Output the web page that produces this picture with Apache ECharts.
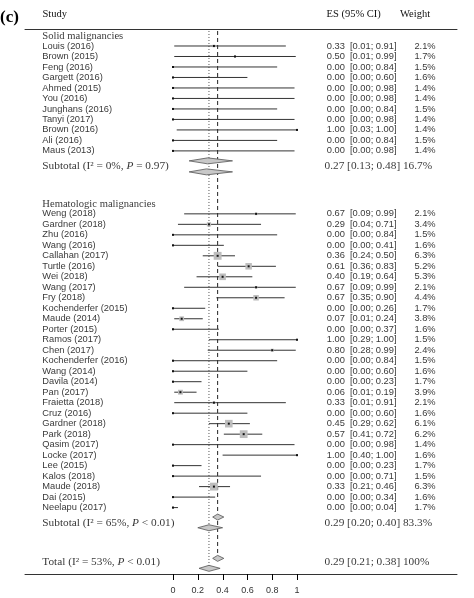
<!DOCTYPE html>
<html>
<head>
<meta charset="utf-8">
<script src="https://cdn.jsdelivr.net/npm/echarts@6/dist/echarts.min.js"></script>
<style>
  html, body { margin: 0; padding: 0; background: #fff; }
  #chart { width: 474px; height: 598px; }
</style>
</head>
<body>
<div id="chart"></div>
<script>
// solid malignancies
const solidStudies = ['Louis (2016)', 'Brown (2015)', 'Feng (2016)', 'Gargett (2016)', 'Ahmed (2015)', 'You (2016)',
  'Junghans (2016)', 'Tanyi (2017)', 'Brown (2016)', 'Ali (2016)', 'Maus (2013)'];
const solidEs = [0.33, 0.50, 0.00, 0.00, 0.00, 0.00, 0.00, 0.00, 1.00, 0.00, 0.00];
const solidLower = [0.01, 0.01, 0.00, 0.00, 0.00, 0.00, 0.00, 0.00, 0.03, 0.00, 0.00];
const solidUpper = [0.91, 0.99, 0.84, 0.60, 0.98, 0.98, 0.84, 0.98, 1.00, 0.84, 0.98];
const solidWeight = [2.1, 1.7, 1.5, 1.6, 1.4, 1.4, 1.5, 1.4, 1.4, 1.5, 1.4];

// hematologic malignancies
const hemeStudies = ['Weng (2018)', 'Gardner (2018)', 'Zhu (2016)', 'Wang (2016)', 'Callahan (2017)', 'Turtle (2016)',
  'Wei (2018)', 'Wang (2017)', 'Fry (2018)', 'Kochenderfer (2015)', 'Maude (2014)', 'Porter (2015)', 'Ramos (2017)',
  'Chen (2017)', 'Kochenderfer (2016)', 'Wang (2014)', 'Davila (2014)', 'Pan (2017)', 'Fraietta (2018)', 'Cruz (2016)',
  'Gardner (2018)', 'Park (2018)', 'Qasim (2017)', 'Locke (2017)', 'Lee (2015)', 'Kalos (2018)', 'Maude (2018)',
  'Dai (2015)', 'Neelapu (2017)'];
const hemeEs = [0.67, 0.29, 0.00, 0.00, 0.36, 0.61, 0.40, 0.67, 0.67, 0.00, 0.07, 0.00, 1.00, 0.80, 0.00, 0.00, 0.00,
  0.06, 0.33, 0.00, 0.45, 0.57, 0.00, 1.00, 0.00, 0.00, 0.33, 0.00, 0.00];
const hemeLower = [0.09, 0.04, 0.00, 0.00, 0.24, 0.36, 0.19, 0.09, 0.35, 0.00, 0.01, 0.00, 0.29, 0.28, 0.00, 0.00, 0.00,
  0.01, 0.01, 0.00, 0.29, 0.41, 0.00, 0.40, 0.00, 0.00, 0.21, 0.00, 0.00];
const hemeUpper = [0.99, 0.71, 0.84, 0.41, 0.50, 0.83, 0.64, 0.99, 0.90, 0.26, 0.24, 0.37, 1.00, 0.99, 0.84, 0.60, 0.23,
  0.19, 0.91, 0.60, 0.62, 0.72, 0.98, 1.00, 0.23, 0.71, 0.46, 0.34, 0.04];
const hemeWeight = [2.1, 3.4, 1.5, 1.6, 6.3, 5.2, 5.3, 2.1, 4.4, 1.7, 3.8, 1.6, 1.5, 2.4, 1.5, 1.6, 1.7, 3.9, 2.1, 1.6,
  6.1, 6.2, 1.4, 1.6, 1.7, 1.5, 6.3, 1.6, 1.7];

// subtotals and total (random effects printed, common effects drawn as upper diamond)
const summaryNames = ['Subtotal', 'Subtotal', 'Total'];
const summaryI2 = ['0%', '65%', '53%'];
const summaryP = ['= 0.97', '< 0.01', '< 0.01'];
const summaryEs = [0.27, 0.29, 0.29];
const summaryLower = [0.13, 0.20, 0.21];
const summaryUpper = [0.48, 0.40, 0.38];
const summaryWeight = ['16.7%', '83.3%', '100%'];
const commonEs = [0.28, 0.36, 0.36];
const commonLower = [0.13, 0.32, 0.32];
const commonUpper = [0.48, 0.41, 0.41];
const overallRandom = 0.29;
const overallCommon = 0.36;

const ticks = [0, 0.2, 0.4, 0.6, 0.8, 1];
const groupNames = ['Solid malignancies', 'Hematologic malignancies'];

// layout (row units on the y axis, value units on the x axis)
const yMin = -0.62;
const yMax = 51.33;
const solidStart = 1;
const hemeStart = 17;
const groupRows = [0.1, 16.05];
const summaryRows = [12.45, 46.45, 50.2];
const commonRows = [11.95, 45.9, 49.84];
const randomRows = [13.0, 46.92, 50.79];
const nameCol = -1.054;
const esCol = 1.24;
const weightCol = 2.118;
const summaryCol = 1.222;

const SANS = 'Liberation Sans';
const SERIF = 'Liberation Serif';
const f2 = v => v.toFixed(2);

const studyRows = [];
const pushGroup = (start, names, es, lo, hi, w) => {
  names.forEach((n, i) => {
    studyRows.push({ row: start + i, name: n, es: es[i], lo: lo[i], hi: hi[i], w: w[i] });
  });
};
pushGroup(solidStart, solidStudies, solidEs, solidLower, solidUpper, solidWeight);
pushGroup(hemeStart, hemeStudies, hemeEs, hemeLower, hemeUpper, hemeWeight);

const diamonds = [];
summaryEs.forEach((v, i) => {
  diamonds.push([commonRows[i], commonEs[i], commonLower[i], commonUpper[i]]);
  diamonds.push([randomRows[i], summaryEs[i], summaryLower[i], summaryUpper[i]]);
});

const chart = echarts.init(document.getElementById('chart'));

const textLabel = (font, size, pos) => ({
  show: true, position: pos || 'right', distance: 0, color: '#000',
  fontFamily: font, fontSize: size, formatter: p => p.data[2]
});

const option = {
  animation: false,
  backgroundColor: '#fff',
  grid: { left: 25, right: 17, top: 29, bottom: 24 },
  xAxis: [
    {
      type: 'value',
      min: -1.1935,
      max: 2.2903,
      position: 'bottom',
      axisLine: { show: true, onZero: false, lineStyle: { color: '#333', width: 1 } },
      axisTick: { show: false },
      axisLabel: { show: false },
      splitLine: { show: false }
    },
    {
      type: 'value',
      min: -1.1935,
      max: 2.2903,
      position: 'top',
      axisLine: { show: true, onZero: false, lineStyle: { color: '#333', width: 1 } },
      axisTick: { show: false },
      axisLabel: { show: false },
      splitLine: { show: false }
    }
  ],
  yAxis: { type: 'value', inverse: true, min: yMin, max: yMax, show: false },
  graphic: [
    { type: 'text', left: 0, top: 9, style: { text: '(c)', font: 'bold 17px ' + SERIF, fill: '#000' } },
    { type: 'text', left: 42.5, top: 9, style: { text: 'Study', font: '10.5px ' + SERIF, fill: '#111' } },
    { type: 'text', left: 326.5, top: 9, style: { text: 'ES (95% CI)', font: '10.5px ' + SERIF, fill: '#111' } },
    { type: 'text', left: 400, top: 9, style: { text: 'Weight', font: '10.5px ' + SERIF, fill: '#111' } }
  ],
  series: [
    // x axis ticks and labels for 0..1
    {
      type: 'custom',
      silent: true,
      clip: false,
      z: 5,
      encode: { x: 0, y: 1 },
      data: ticks.map(t => [t, yMax]),
      renderItem: (params, api) => {
        const p = api.coord([api.value(0), api.value(1)]);
        const x = Math.round(p[0]) + 0.5;
        return {
          type: 'group',
          children: [
            { type: 'line', shape: { x1: x, y1: p[1], x2: x, y2: p[1] + 6 }, style: { stroke: '#000', lineWidth: 1 } },
            {
              type: 'text',
              x: p[0], y: p[1] + 17,
              style: {
                text: String(api.value(0)), fill: '#333', font: '9px ' + SANS,
                align: 'center', verticalAlign: 'middle'
              }
            }
          ]
        };
      }
    },
    // reference lines
    {
      type: 'line',
      silent: true,
      symbol: 'none',
      data: [[overallRandom, -0.43], [overallRandom, randomRows[2]]],
      lineStyle: { color: '#555', width: 1, type: [1, 2] },
      z: 1
    },
    {
      type: 'line',
      silent: true,
      symbol: 'none',
      data: [[overallCommon, -0.43], [overallCommon, commonRows[2]]],
      lineStyle: { color: '#222', width: 1, type: [4, 3] },
      z: 1
    },
    // study CIs and squares
    {
      type: 'custom',
      silent: true,
      z: 3,
      encode: { x: [1, 2, 3], y: 0 },
      data: studyRows.map(d => [d.row, d.es, d.lo, d.hi, d.w]),
      renderItem: (params, api) => {
        const y = api.value(0);
        const pl = api.coord([api.value(2), y]);
        const ph = api.coord([api.value(3), y]);
        const pc = api.coord([api.value(1), y]);
        const s = api.value(4) * 1.25;
        return {
          type: 'group',
          children: [
            { type: 'line', shape: { x1: pl[0], y1: pc[1], x2: ph[0], y2: pc[1] }, style: { stroke: '#333', lineWidth: 1 } },
            { type: 'rect', shape: { x: pc[0] - s / 2, y: pc[1] - s / 2, width: s, height: s }, style: { fill: '#bdbdbd' } },
            { type: 'rect', shape: { x: pc[0] - 1, y: pc[1] - 1, width: 2, height: 2 }, style: { fill: '#111' } }
          ]
        };
      }
    },
    // summary diamonds
    {
      type: 'custom',
      silent: true,
      z: 4,
      encode: { x: [1, 2, 3], y: 0 },
      data: diamonds,
      renderItem: (params, api) => {
        const y = api.value(0);
        const pl = api.coord([api.value(2), y]);
        const ph = api.coord([api.value(3), y]);
        const pc = api.coord([api.value(1), y]);
        const h = 3;
        return {
          type: 'polygon',
          shape: { points: [[pl[0], pc[1]], [pc[0], pc[1] - h], [ph[0], pc[1]], [pc[0], pc[1] + h]] },
          style: { fill: '#c8c8c8', stroke: '#555', lineWidth: 0.8 }
        };
      }
    },
    // study names
    {
      type: 'scatter', silent: true, symbolSize: 0,
      data: studyRows.map(d => [nameCol, d.row, d.name]),
      label: textLabel(SANS, 9.3)
    },
    // ES and CI text
    {
      type: 'scatter', silent: true, symbolSize: 0,
      data: studyRows.map(d => [esCol, d.row, f2(d.es) + '  [' + f2(d.lo) + '; ' + f2(d.hi) + ']']),
      label: textLabel(SANS, 9.3)
    },
    // weights
    {
      type: 'scatter', silent: true, symbolSize: 0,
      data: studyRows.map(d => [weightCol, d.row, d.w.toFixed(1) + '%']),
      label: textLabel(SANS, 9.3, 'left')
    },
    // group headers
    {
      type: 'scatter', silent: true, symbolSize: 0,
      data: groupNames.map((n, i) => [nameCol, groupRows[i], n]),
      label: textLabel(SERIF, 10.6)
    },
    // summary labels
    {
      type: 'scatter', silent: true, symbolSize: 0,
      data: summaryNames.map((n, i) => [nameCol, summaryRows[i], n + ' (I\u00b2 = ' + summaryI2[i] + ', {i|P} ' + summaryP[i] + ')']),
      label: Object.assign(textLabel(SERIF, 11.3), {
        rich: { i: { fontStyle: 'italic', fontFamily: SERIF, fontSize: 11.3, color: '#000' } }
      })
    },
    {
      type: 'scatter', silent: true, symbolSize: 0,
      data: summaryEs.map((v, i) => [summaryCol, summaryRows[i],
        f2(v) + ' [' + f2(summaryLower[i]) + '; ' + f2(summaryUpper[i]) + '] ' + summaryWeight[i]]),
      label: textLabel(SERIF, 11.3)
    }
  ]
};

chart.setOption(option);
</script>
</body>
</html>
